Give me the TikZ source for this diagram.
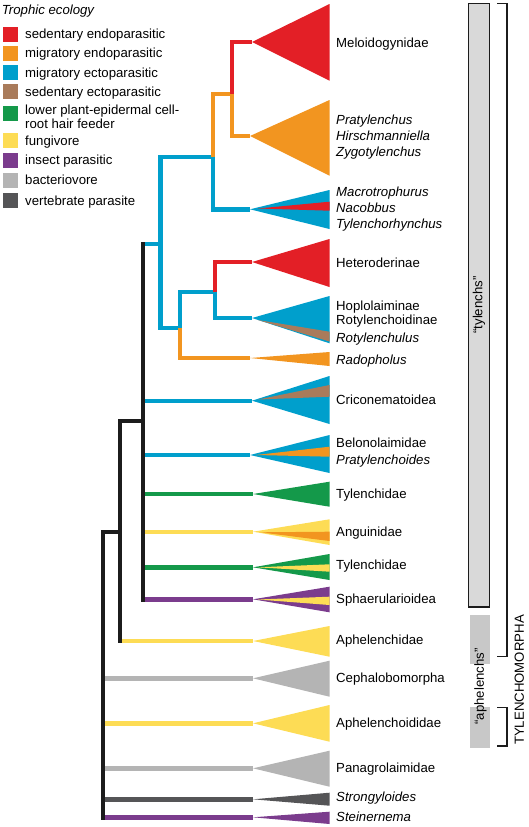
\documentclass[tikz,border=0pt]{standalone}
\usepackage{fontspec}
\setmainfont{Liberation Sans}
\newcommand\lblfont{\fontsize{13.2}{14}\selectfont}
\definecolor{cRed}{HTML}{E31F26}
\definecolor{cOra}{HTML}{F29520}
\definecolor{cBlu}{HTML}{009FCC}
\definecolor{cBro}{HTML}{A97B5B}
\definecolor{cGre}{HTML}{14994A}
\definecolor{cYel}{HTML}{FDDC55}
\definecolor{cPur}{HTML}{7B3C8D}
\definecolor{cLgr}{HTML}{B4B4B4}
\definecolor{cDgr}{HTML}{555557}
\definecolor{cBlk}{HTML}{1C1C1C}
\definecolor{cBox}{HTML}{D9D9D9}
\definecolor{cAbox}{HTML}{C8C8C8}
\begin{document}
\begin{tikzpicture}[x=1pt,y=-1pt,
  br/.style={line width=4.4pt,line join=miter},
  trunk/.style={line width=4.4pt,line cap=rect,cBlk},
  lbl/.style={anchor=base west,inner sep=0pt,font=\lblfont},
  ilbl/.style={lbl,font=\lblfont\itshape},
  legsq/.style={minimum width=15pt,minimum height=15pt,inner sep=0pt,draw=none},
  rlbl/.style={rotate=90,inner sep=0pt,font=\lblfont},
  brk/.style={line width=1.6pt,cBlk,line join=miter}]
\useasboundingbox (0,0) rectangle (528,827);

% ---- legend ----
\node[anchor=base west,inner sep=0pt,font=\lblfont\itshape] (legT) at (1.7,14.7) {Trophic ecology};
\node[legsq,fill=cRed] (sq1) at (10.2,34.2) {};
\node[legsq,fill=cOra] (sq2) at (10.2,53.3) {};
\node[legsq,fill=cBlu] (sq3) at (10.2,72.5) {};
\node[legsq,fill=cBro] (sq4) at (10.2,91.8) {};
\node[legsq,fill=cGre] (sq5) at (10.2,113.3) {};
\node[legsq,fill=cYel] (sq6) at (10.2,140.5) {};
\node[legsq,fill=cPur] (sq7) at (10.2,160.2) {};
\node[legsq,fill=cLgr] (sq8) at (10.2,180.2) {};
\node[legsq,fill=cDgr] (sq9) at (10.2,200.5) {};
\node[lbl] (lg1) at (25,38.7) {sedentary endoparasitic};
\node[lbl] (lg2) at (25,57.8) {migratory endoparasitic};
\node[lbl] (lg3) at (25,77) {migratory ectoparasitic};
\node[lbl] (lg4) at (25,96.3) {sedentary ectoparasitic};
\node[lbl] (lg5) at (25,114) {lower plant-epidermal cell-};
\node[lbl] (lg5b) at (25,128) {root hair feeder};
\node[lbl] (lg6) at (25,145) {fungivore};
\node[lbl] (lg7) at (25,164.7) {insect parasitic};
\node[lbl] (lg8) at (25,184.7) {bacteriovore};
\node[lbl] (lg9) at (25,205) {vertebrate parasite};

% ---- internal nodes ----
\coordinate (nR) at (103,532);
\coordinate (nA) at (120,532);
\coordinate (nT) at (143,420.7);
\coordinate (nB1) at (160.5,244);
\coordinate (nB2) at (213,156.7);
\coordinate (nO1) at (232,94);
\coordinate (nB3) at (180,328);
\coordinate (nB4) at (215,291.7);

% ---- tip apices ----
\coordinate (tMel) at (252,42);
\coordinate (tPra) at (250,136);
\coordinate (tMac) at (250,209.3);
\coordinate (tHet) at (252,262);
\coordinate (tHop) at (252,318);
\coordinate (tRad) at (250,358);
\coordinate (tCri) at (252,400.7);
\coordinate (tBel) at (250,455);
\coordinate (tTy1) at (253,494);
\coordinate (tAng) at (253,531.7);
\coordinate (tTy2) at (253,567.3);
\coordinate (tSph) at (253,599.3);
\coordinate (tAph) at (253,641);
\coordinate (tCep) at (253,678.3);
\coordinate (tApd) at (253,723.3);
\coordinate (tPan) at (253,768.3);
\coordinate (tStr) at (253,799.3);
\coordinate (tSte) at (253,817.3);

% ---- branches ----
\draw[br,cBlu] (nT |- nB1) -- (nB1);
\draw[br,cBlu] (nB1) |- (nB2);
\draw[br,cBlu] (nB1) |- (nB3);
\draw[br,cOra] (nB2) |- (nO1);
\draw[br,cBlu] (nB2) |- (tMac);
\draw[br,cRed] (nO1) |- (tMel);
\draw[br,cOra] (nO1) |- (tPra);
\draw[br,cBlu] (nB3) |- (nB4);
\draw[br,cOra] (nB3) |- (tRad);
\draw[br,cRed] (nB4) |- (tHet);
\draw[br,cBlu] (nB4) |- (tHop);
\draw[br,cBlu] (nT |- tCri) -- (tCri);
\draw[br,cBlu] (nT |- tBel) -- (tBel);
\draw[br,cGre] (nT |- tTy1) -- (tTy1);
\draw[br,cYel] (nT |- tAng) -- (tAng);
\draw[br,cGre] (nT |- tTy2) -- (tTy2);
\draw[br,cPur] (nT |- tSph) -- (tSph);
\draw[br,cBlk] (nA |- nT) -- (nT);
\draw[br,cYel] (nA |- tAph) -- (tAph);
\draw[br,cBlk] (nR) -- (nA);
\draw[br,cLgr] (nR |- tCep) -- (tCep);
\draw[br,cYel] (nR |- tApd) -- (tApd);
\draw[br,cLgr] (nR |- tPan) -- (tPan);
\draw[br,cDgr] (nR |- tStr) -- (tStr);
\draw[br,cPur] (nR |- tSte) -- (tSte);
% black trunks
\draw[trunk] (nT |- nB1) -- (nT |- tSph);
\draw[trunk] (nA |- nT) -- (nA |- tAph);
\draw[trunk] (nR) -- (nR |- tSte);

% ---- collapsed clades ----
\fill[cRed] (tMel) -- (329.5,4) -- (329.5,80.7) -- cycle;
\fill[cOra] (tPra) -- (329.5,100) -- (329.5,175.7) -- cycle;
\fill[cBlu] (tMac) -- (329.5,190) -- (329.5,229) -- cycle;
\fill[cRed] (258,208.5) -- (329.5,201.7) -- (329.5,210.7) -- cycle;
\fill[cRed] (tHet) -- (329.5,239) -- (329.5,287) -- cycle;
\fill[cBlu] (tHop) -- (329.5,296) -- (329.5,343.3) -- cycle;
\fill[cBro] (258,320) -- (329.5,331.7) -- (329.5,341.5) -- cycle;
\fill[cOra] (tRad) -- (329.5,352) -- (329.5,366) -- cycle;
\fill[cBlu] (tCri) -- (329.5,376) -- (329.5,424) -- cycle;
\fill[cBro] (258,399.5) -- (329.5,385) -- (329.5,396.7) -- cycle;
\fill[cBlu] (tBel) -- (329.5,435) -- (329.5,473) -- cycle;
\fill[cOra] (256,455) -- (329.5,446.7) -- (329.5,456.7) -- cycle;
\fill[cGre] (tTy1) -- (329.5,481.7) -- (329.5,506.7) -- cycle;
\fill[cYel] (tAng) -- (329.5,519.3) -- (329.5,545) -- cycle;
\fill[cOra] (260,532.3) -- (329.5,531.7) -- (329.5,541) -- cycle;
\fill[cGre] (tTy2) -- (329.5,554) -- (329.5,580) -- cycle;
\fill[cYel] (258,567.3) -- (329.5,564.3) -- (329.5,571.7) -- cycle;
\fill[cPur] (tSph) -- (329.5,586.7) -- (329.5,612.3) -- cycle;
\fill[cYel] (258,599.5) -- (329.5,596.7) -- (329.5,605) -- cycle;
\fill[cYel] (tAph) -- (329.5,626) -- (329.5,656.7) -- cycle;
\fill[cLgr] (tCep) -- (329.5,660.7) -- (329.5,696.7) -- cycle;
\fill[cYel] (tApd) -- (329.5,705) -- (329.5,741.7) -- cycle;
\fill[cLgr] (tPan) -- (329.5,750.7) -- (329.5,786.7) -- cycle;
\fill[cDgr] (tStr) -- (329.5,792.7) -- (329.5,805.7) -- cycle;
\fill[cPur] (tSte) -- (329.5,811.7) -- (329.5,824) -- cycle;

% ---- tip labels ----
\node[lbl]  (lMel) at (336,47.7) {Meloidogynidae};
\node[ilbl] (lPra) at (336,124.7) {Pratylenchus};
\node[ilbl] (lHir) at (336,140.2) {Hirschmanniella};
\node[ilbl] (lZyg) at (336,156.2) {Zygotylenchus};
\node[ilbl] (lMac) at (336,196.4) {Macrotrophurus};
\node[ilbl] (lNac) at (336,212) {Nacobbus};
\node[ilbl] (lTyr) at (336,228.7) {Tylenchorhynchus};
\node[lbl]  (lHet) at (336,267) {Heteroderinae};
\node[lbl]  (lHop) at (336,310.7) {Hoplolaiminae};
\node[lbl]  (lRod) at (336,324.2) {Rotylenchoidinae};
\node[ilbl] (lRol) at (336,342) {Rotylenchulus};
\node[ilbl] (lRad) at (336,364) {Radopholus};
\node[lbl]  (lCri) at (336,404.2) {Criconematoidea};
\node[lbl]  (lBel) at (336,447.5) {Belonolaimidae};
\node[ilbl] (lPrd) at (336,464) {Pratylenchoides};
\node[lbl]  (lTy1) at (336,498.7) {Tylenchidae};
\node[lbl]  (lAng) at (336,536.4) {Anguinidae};
\node[lbl]  (lTy2) at (336,569.7) {Tylenchidae};
\node[lbl]  (lSph) at (336,603) {Sphaerularioidea};
\node[lbl]  (lAph) at (336,644.7) {Aphelenchidae};
\node[lbl]  (lCep) at (336,682.7) {Cephalobomorpha};
\node[lbl]  (lApd) at (336,727.7) {Aphelenchoididae};
\node[lbl]  (lPan) at (336,772.7) {Panagrolaimidae};
\node[ilbl] (lStr) at (336,801.4) {Strongyloides};
\node[ilbl] (lSte) at (336,821.4) {Steinernema};

% ---- right-hand bars ----
\draw[line width=1.5pt,cBlk,fill=cBox] (468.5,3.5) rectangle (489.3,607) coordinate (tyBox);
\node[rlbl] (tyTxt) at (479,305) {“tylenchs”};
\fill[cAbox] (469.5,615) rectangle (489.5,663.5);
\fill[cAbox] (469.5,707) rectangle (489.5,747.5);
\node[rlbl] (apTxt) at (480.5,686.5) {“aphelenchs”};
\coordinate (b1a) at (497,3.3);
\coordinate (b1b) at (507,656.5);
\draw[brk] (b1a) -| (b1b) -- (b1b -| b1a);
\coordinate (b2a) at (497,707.3);
\coordinate (b2b) at (507,746);
\draw[brk] (b2a) -| (b2b) -- (b2b -| b2a);
\node[rlbl] (tyMor) at (519.3,680) {TYLENCHOMORPHA};
\end{tikzpicture}
\end{document}
